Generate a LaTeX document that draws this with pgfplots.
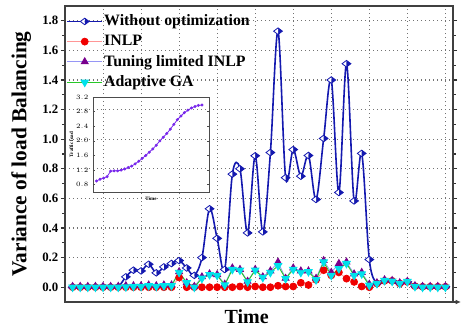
\documentclass[border=0pt]{standalone}
\usepackage{fontspec}
\setmainfont{Liberation Serif}
\usepackage{pgfplots}
\usepackage{pgfplotstable}
\pgfplotsset{compat=1.18}
\usetikzlibrary{plotmarks,arrows.meta}

\definecolor{cBlue}{RGB}{20,25,175}
\definecolor{cRed}{RGB}{240,0,0}
\definecolor{cRedL}{RGB}{255,150,150}
\definecolor{cPurp}{RGB}{120,0,140}
\definecolor{cPurpL}{RGB}{150,150,245}
\definecolor{cCyan}{RGB}{0,225,235}
\definecolor{cGreen}{RGB}{40,200,40}
\definecolor{cInset}{RGB}{120,40,235}

\pgfplotstableread{
x    blue   red    purp   cyan
1    0.000  0.000  0.005  0.000
2    0.000  0.000  0.005  0.000
3    0.000  0.000  0.005  0.000
4    0.000  0.000  0.005  0.000
5    0.000  0.000  0.005  0.000
6    0.000  0.000  0.005  0.000
7    0.003  0.000  0.006  0.000
8    0.070  0.000  0.010  0.002
9    0.115  0.000  0.010  0.005
10   0.110  0.000  0.010  0.005
11   0.155  0.000  0.015  0.010
12   0.097  0.000  0.010  0.005
13   0.137  0.000  0.015  0.010
14   0.160  0.000  0.015  0.010
15   0.180  0.066  0.105  0.100
16   0.130  0.000  0.030  0.030
17   0.080  0.000  0.005  0.000
18   0.200  0.000  0.070  0.060
19   0.530  0.000  0.090  0.085
20   0.330  0.000  0.085  0.080
21   0.120  0.000  0.020  0.015
22   0.764  0.000  0.130  0.120
23   0.800  0.005  0.120  0.115
24   0.367  0.000  0.040  0.036
25   0.888  0.005  0.120  0.115
26   0.374  0.000  0.070  0.066
27   0.910  0.000  0.110  0.100
28   1.730  0.010  0.170  0.145
29   0.740  0.005  0.060  0.058
30   0.930  0.005  0.130  0.120
31   0.750  0.030  0.110  0.100
32   0.890  0.015  0.110  0.105
33   0.593  0.050  0.060  0.050
34   1.005  0.115  0.180  0.170
35   1.400  0.080  0.100  0.080
36   0.640  0.100  0.160  0.125
37   1.510  0.058  0.170  0.160
38   0.583  0.036  0.090  0.080
39   0.904  0.005  0.100  0.090
40   0.187  0.000  0.020  0.013
41   0.025  0.025  0.030  0.025
42   0.043  0.043  0.050  0.045
43   0.043  0.043  0.045  0.040
44   0.025  0.025  0.030  0.025
45   0.036  0.036  0.040  0.038
46   0.007  0.007  0.010  0.005
47   0.003  0.003  0.005  0.000
48   0.003  0.003  0.005  0.000
49   0.003  0.003  0.005  0.000
50   0.003  0.003  0.005  0.000
}\maindata

\pgfplotstableread{
t   load
1   0.90
2   0.95
3   0.98
4   1.02
5   1.17
6   1.18
7   1.18
8   1.20
9   1.23
10  1.27
11  1.31
12  1.37
13  1.44
14  1.52
15  1.60
16  1.69
17  1.78
18  1.88
19  2.00
20  2.10
21  2.20
22  2.32
23  2.45
24  2.58
25  2.68
26  2.77
27  2.84
28  2.90
29  2.94
30  2.97
31  2.98
}\insetdata

\begin{document}
\begin{tikzpicture}
\begin{axis}[
  name=main,
  at={(0pt,0pt)}, anchor=south west,
  scale only axis, width=291pt, height=222pt,
  xmin=0, xmax=51, ymin=-0.1, ymax=1.9,
  xtick={5,10,15,20,25,30,35,40,45,50}, xticklabels={},
  major x tick style={draw=none},
  ytick={0,0.2,0.4,0.6,0.8,1.0,1.2,1.4,1.6,1.8},
  minor y tick num=1,
  tick align=outside,
  major tick length=3pt, minor tick length=2pt,
  tick style={black!80, line width=0.8pt},
  grid=major,
  major grid style={dash pattern=on 0.8pt off 2.2pt, line width=0.8pt, black!55},
  axis line style={line width=1.1pt, black!75},
  yticklabel style={font=\bfseries\fontsize{9.6}{10}\selectfont, xshift=1.5pt},
  /pgf/number format/assume math mode=true,
  /pgf/number format/fixed, /pgf/number format/fixed zerofill,
  /pgf/number format/precision=1,
  ylabel={Variance of load Balancing},
  xlabel={Time},
  ylabel style={font=\bfseries\fontsize{16}{18}\selectfont, at={(axis description cs:-0.075,0.5)}, anchor=south},
  xlabel style={font=\bfseries\fontsize{15}{17}\selectfont, at={(axis description cs:0.468,0)}, anchor=north, yshift=-2pt},
  legend cell align=left,
  legend style={at={(0,1)}, anchor=north west, draw=none, fill=none,
    font=\bfseries\fontsize{11.9}{13}\selectfont, inner sep=1pt,
    nodes={inner sep=1pt}, row sep=3.6pt, yshift=-4.5pt},
  legend image code/.code={\draw[mark repeat=2,mark phase=2] plot coordinates {(0pt,0pt) (13pt,0pt) (26pt,0pt)};},
]
\addplot[cBlue, line width=1.2pt, smooth, tension=0.55, mark=halfdiamond*, mark size=3.3pt,
  mark options={solid, rotate=90, fill=cBlue, draw=cBlue, line width=0.6pt, fill opacity=1}]
  table[x=x, y=blue] {\maindata};
\addlegendentry{Without optimization}
\addplot[cRedL, line width=0.6pt, mark=*, mark size=2.6pt, mark options={fill=cRed, draw=cRed}]
  table[x=x, y=red] {\maindata};
\addlegendentry{INLP}
\addplot[cPurpL, line width=0.6pt, mark=triangle*, mark size=3pt, mark options={fill=cPurp, draw=cPurp}]
  table[x=x, y=purp] {\maindata};
\addlegendentry{Tuning limited INLP}
\addplot[cGreen, line width=0.7pt, mark=triangle*, mark size=3.2pt, mark options={rotate=180, fill=cCyan, draw=cCyan}]
  table[x=x, y=cyan] {\maindata};
\addlegendentry{Adaptive GA}
\end{axis}
\draw[black!75, line width=1.1pt, -{Latex[length=4pt,width=3.5pt]}] (main.south east) -- ++(6pt,0);

\begin{axis}[
  name=inset,
  at={(21pt,82.5pt)}, anchor=south west,
  scale only axis, width=87pt, height=71.25pt,
  xmin=0, xmax=33, ymin=0.6, ymax=3.2,
  xtick=\empty,
  ytick={0.8,1.2,1.6,2.0,2.4,2.8,3.2},
  yticklabel style={font=\fontsize{3}{3.5}\selectfont},
  /pgf/number format/fixed, /pgf/number format/fixed zerofill,
  /pgf/number format/precision=1,
  tick align=inside, major tick length=1.2pt,
  tick style={black!70, line width=0.3pt},
  axis line style={line width=0.6pt, black!70},
  axis background/.style={fill=none},
  ylabel={Traffic load}, xlabel={Time},
  ylabel style={font=\bfseries\fontsize{3.8}{4}\selectfont, at={(axis description cs:-0.13,0.5)}, anchor=south},
  xlabel style={font=\bfseries\fontsize{3.8}{4}\selectfont, at={(axis description cs:0.5,0)}, anchor=north, yshift=-0.5pt},
]
\addplot[cInset, line width=0.6pt, mark=*, mark size=0.8pt, mark options={fill=cInset, draw=cInset}]
  table[x=t, y=load] {\insetdata};
\end{axis}

\pgfresetboundingbox
\path[use as bounding box] (-48.75pt,-18pt) rectangle (306.75pt,226.5pt);
\end{tikzpicture}
\end{document}
